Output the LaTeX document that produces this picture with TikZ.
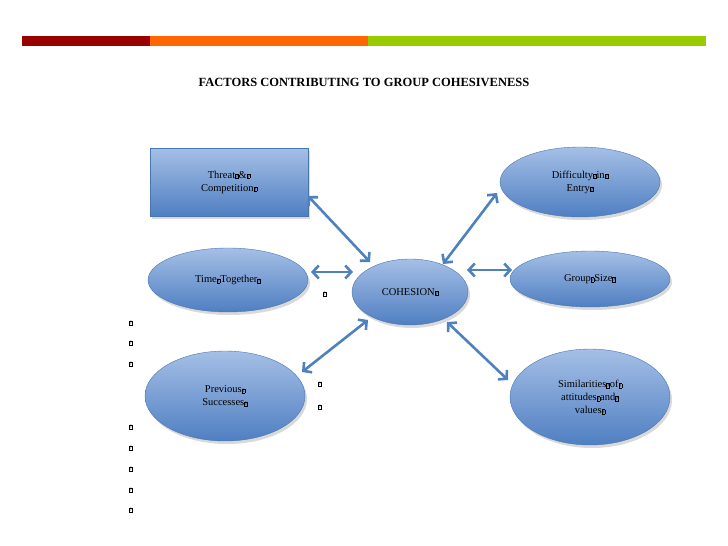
\documentclass[tikz,border=0pt]{standalone}
\usepackage{fontspec}
\setmainfont{Liberation Serif}
\usetikzlibrary{arrows.meta,shapes.geometric,shadows}
\definecolor{bred}{HTML}{990000}
\definecolor{borange}{HTML}{FF6600}
\definecolor{bgreen}{HTML}{99CC00}
\definecolor{ctop}{HTML}{A5BFE6}
\definecolor{cbot}{HTML}{4F7FC2}
\definecolor{cedge}{HTML}{4A76B0}
\definecolor{arr}{HTML}{4F81BD}
\newcommand{\tofu}{{\setlength{\fboxsep}{0.2pt}\setlength{\fboxrule}{0.4pt}\fbox{\fontsize{5}{5}\selectfont ?}}}
\begin{document}
\begin{tikzpicture}[x=1pt,y=-1pt,
  shp/.style={draw=cedge,top color=ctop,bottom color=cbot,drop shadow={opacity=0.3,shadow xshift=2pt,shadow yshift=-3pt},align=center,font=\fontsize{10.5}{13}\selectfont,inner sep=0pt},
  el/.style={shp,ellipse},
  link/.style={draw=arr,line width=2.6pt,{Straight Barb[length=6pt,width=13pt]}-{Straight Barb[length=6pt,width=13pt]}},
  tf/.style={inner sep=0pt}]
\useasboundingbox (0,0) rectangle (728,546);
\fill[bred] (22,36) rectangle (150,46);
\fill[borange] (150,36) rectangle (368,46);
\fill[bgreen] (368,36) rectangle (706,46);
\node[font=\bfseries\fontsize{12.5}{14}\selectfont] (title) at (364,82) {FACTORS CONTRIBUTING TO GROUP COHESIVENESS};
\node[shp,rectangle,minimum width=158pt,minimum height=68pt] (threat) at (229,182) {Threat\tofu\&\tofu\\Competition\tofu};
\node[el,minimum width=160pt,minimum height=70pt] (diff) at (580,182) {Difficulty\tofu in\tofu\\Entry\tofu};
\node[el,minimum width=160pt,minimum height=64pt] (time) at (228,280) {Time\tofu Together\tofu};
\node[el,minimum width=116pt,minimum height=66pt] (coh) at (410,292) {COHESION\tofu};
\node[el,minimum width=160pt,minimum height=56pt] (grp) at (590,279) {Group\tofu Size\tofu};
\node[el,minimum width=160pt,minimum height=90pt] (prev) at (225,396) {Previous\tofu\\Successes\tofu};
\node[el,minimum width=160pt,minimum height=96pt] (sim) at (590,397) {Similarities\tofu of\tofu\\attitudes\tofu and\tofu\\values\tofu};
\coordinate (a1) at (308,196); \coordinate (b1) at (370,262);
\coordinate (a2) at (497,193); \coordinate (b2) at (443,264);
\coordinate (a3) at (311,272); \coordinate (b3) at (353,272);
\coordinate (a4) at (467,270); \coordinate (b4) at (512,270);
\coordinate (a5) at (302,372); \coordinate (b5) at (368,320);
\coordinate (a6) at (447,322); \coordinate (b6) at (508,380);
\draw[link] (a1) -- (b1);
\draw[link] (a2) -- (b2);
\draw[link] (a3) -- (b3);
\draw[link] (a4) -- (b4);
\draw[link] (a5) -- (b5);
\draw[link] (a6) -- (b6);
\foreach \n/\x/\y in {t1/325/294,t2/131/323,t3/131/343,t4/131/364,t5/320/384,t6/320/407,t7/131/427,t8/131/448,t9/131/469,t10/131/490,t11/131/510}
  \node[tf] (\n) at (\x,\y) {\tofu};
\end{tikzpicture}
\end{document}
